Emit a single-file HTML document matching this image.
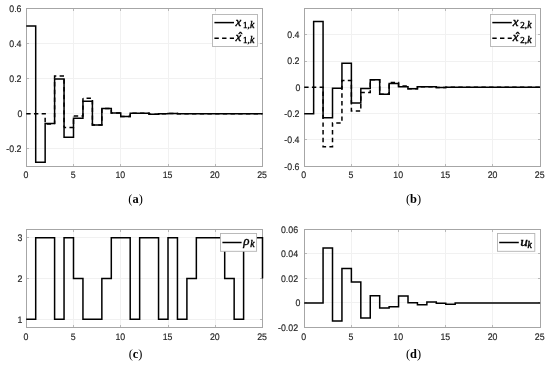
<!DOCTYPE html>
<html><head><meta charset="utf-8"><style>
html,body{margin:0;padding:0;background:#fff;}
svg{display:block;}
.t{font-family:"Liberation Sans",Arial,sans-serif;font-size:8.8px;fill:#262626;stroke:#262626;stroke-width:0.15px;text-rendering:geometricPrecision;}
.m{font-family:"Liberation Serif","Times New Roman",serif;font-style:italic;font-size:13px;fill:#000;stroke:#000;stroke-width:0.4px;}
.s{font-style:normal;font-size:9px;}
.mi{font-style:italic;}
.hat{font-family:"Liberation Serif",serif;font-size:11.5px;fill:#000;stroke:#000;stroke-width:0.35px;}
.cap{font-family:"Liberation Serif","Times New Roman",serif;font-size:12.4px;fill:#000;}
.cap tspan{font-weight:bold;}
</style></head><body>
<svg width="550" height="365" viewBox="0 0 550 365">
<rect width="550" height="365" fill="#fff"/>
<line x1="73.5" y1="8.5" x2="73.5" y2="166.5" stroke="#f1f1f1"/>
<line x1="120.5" y1="8.5" x2="120.5" y2="166.5" stroke="#f1f1f1"/>
<line x1="168.5" y1="8.5" x2="168.5" y2="166.5" stroke="#f1f1f1"/>
<line x1="215.5" y1="8.5" x2="215.5" y2="166.5" stroke="#f1f1f1"/>
<line x1="26.5" y1="43.5" x2="262.5" y2="43.5" stroke="#f1f1f1"/>
<line x1="26.5" y1="78.5" x2="262.5" y2="78.5" stroke="#f1f1f1"/>
<line x1="26.5" y1="113.5" x2="262.5" y2="113.5" stroke="#f1f1f1"/>
<line x1="26.5" y1="148.5" x2="262.5" y2="148.5" stroke="#f1f1f1"/>
<line x1="351.5" y1="8.5" x2="351.5" y2="166.5" stroke="#f1f1f1"/>
<line x1="398.5" y1="8.5" x2="398.5" y2="166.5" stroke="#f1f1f1"/>
<line x1="445.5" y1="8.5" x2="445.5" y2="166.5" stroke="#f1f1f1"/>
<line x1="492.5" y1="8.5" x2="492.5" y2="166.5" stroke="#f1f1f1"/>
<line x1="304.5" y1="34.5" x2="540.5" y2="34.5" stroke="#f1f1f1"/>
<line x1="304.5" y1="61.5" x2="540.5" y2="61.5" stroke="#f1f1f1"/>
<line x1="304.5" y1="87.5" x2="540.5" y2="87.5" stroke="#f1f1f1"/>
<line x1="304.5" y1="113.5" x2="540.5" y2="113.5" stroke="#f1f1f1"/>
<line x1="304.5" y1="139.5" x2="540.5" y2="139.5" stroke="#f1f1f1"/>
<line x1="73.5" y1="229.5" x2="73.5" y2="327.5" stroke="#f1f1f1"/>
<line x1="120.5" y1="229.5" x2="120.5" y2="327.5" stroke="#f1f1f1"/>
<line x1="168.5" y1="229.5" x2="168.5" y2="327.5" stroke="#f1f1f1"/>
<line x1="215.5" y1="229.5" x2="215.5" y2="327.5" stroke="#f1f1f1"/>
<line x1="26.5" y1="237.5" x2="262.5" y2="237.5" stroke="#f1f1f1"/>
<line x1="26.5" y1="278.5" x2="262.5" y2="278.5" stroke="#f1f1f1"/>
<line x1="26.5" y1="319.5" x2="262.5" y2="319.5" stroke="#f1f1f1"/>
<line x1="351.5" y1="229.5" x2="351.5" y2="327.5" stroke="#f1f1f1"/>
<line x1="398.5" y1="229.5" x2="398.5" y2="327.5" stroke="#f1f1f1"/>
<line x1="445.5" y1="229.5" x2="445.5" y2="327.5" stroke="#f1f1f1"/>
<line x1="492.5" y1="229.5" x2="492.5" y2="327.5" stroke="#f1f1f1"/>
<line x1="304.5" y1="253.5" x2="540.5" y2="253.5" stroke="#f1f1f1"/>
<line x1="304.5" y1="278.5" x2="540.5" y2="278.5" stroke="#f1f1f1"/>
<line x1="304.5" y1="302.5" x2="540.5" y2="302.5" stroke="#f1f1f1"/>
<line x1="73.5" y1="166.5" x2="73.5" y2="164.0" stroke="#b8b8b8"/>
<line x1="73.5" y1="8.5" x2="73.5" y2="11.0" stroke="#b8b8b8"/>
<line x1="120.5" y1="166.5" x2="120.5" y2="164.0" stroke="#b8b8b8"/>
<line x1="120.5" y1="8.5" x2="120.5" y2="11.0" stroke="#b8b8b8"/>
<line x1="168.5" y1="166.5" x2="168.5" y2="164.0" stroke="#b8b8b8"/>
<line x1="168.5" y1="8.5" x2="168.5" y2="11.0" stroke="#b8b8b8"/>
<line x1="215.5" y1="166.5" x2="215.5" y2="164.0" stroke="#b8b8b8"/>
<line x1="215.5" y1="8.5" x2="215.5" y2="11.0" stroke="#b8b8b8"/>
<line x1="26.5" y1="43.5" x2="29.0" y2="43.5" stroke="#b8b8b8"/>
<line x1="262.5" y1="43.5" x2="260.0" y2="43.5" stroke="#b8b8b8"/>
<line x1="26.5" y1="78.5" x2="29.0" y2="78.5" stroke="#b8b8b8"/>
<line x1="262.5" y1="78.5" x2="260.0" y2="78.5" stroke="#b8b8b8"/>
<line x1="26.5" y1="113.5" x2="29.0" y2="113.5" stroke="#b8b8b8"/>
<line x1="262.5" y1="113.5" x2="260.0" y2="113.5" stroke="#b8b8b8"/>
<line x1="26.5" y1="148.5" x2="29.0" y2="148.5" stroke="#b8b8b8"/>
<line x1="262.5" y1="148.5" x2="260.0" y2="148.5" stroke="#b8b8b8"/>
<rect x="26.5" y="8.5" width="236.0" height="158.0" fill="none" stroke="#a6a6a6"/>
<line x1="351.5" y1="166.5" x2="351.5" y2="164.0" stroke="#b8b8b8"/>
<line x1="351.5" y1="8.5" x2="351.5" y2="11.0" stroke="#b8b8b8"/>
<line x1="398.5" y1="166.5" x2="398.5" y2="164.0" stroke="#b8b8b8"/>
<line x1="398.5" y1="8.5" x2="398.5" y2="11.0" stroke="#b8b8b8"/>
<line x1="445.5" y1="166.5" x2="445.5" y2="164.0" stroke="#b8b8b8"/>
<line x1="445.5" y1="8.5" x2="445.5" y2="11.0" stroke="#b8b8b8"/>
<line x1="492.5" y1="166.5" x2="492.5" y2="164.0" stroke="#b8b8b8"/>
<line x1="492.5" y1="8.5" x2="492.5" y2="11.0" stroke="#b8b8b8"/>
<line x1="304.5" y1="34.5" x2="307.0" y2="34.5" stroke="#b8b8b8"/>
<line x1="540.5" y1="34.5" x2="538.0" y2="34.5" stroke="#b8b8b8"/>
<line x1="304.5" y1="61.5" x2="307.0" y2="61.5" stroke="#b8b8b8"/>
<line x1="540.5" y1="61.5" x2="538.0" y2="61.5" stroke="#b8b8b8"/>
<line x1="304.5" y1="87.5" x2="307.0" y2="87.5" stroke="#b8b8b8"/>
<line x1="540.5" y1="87.5" x2="538.0" y2="87.5" stroke="#b8b8b8"/>
<line x1="304.5" y1="113.5" x2="307.0" y2="113.5" stroke="#b8b8b8"/>
<line x1="540.5" y1="113.5" x2="538.0" y2="113.5" stroke="#b8b8b8"/>
<line x1="304.5" y1="139.5" x2="307.0" y2="139.5" stroke="#b8b8b8"/>
<line x1="540.5" y1="139.5" x2="538.0" y2="139.5" stroke="#b8b8b8"/>
<rect x="304.5" y="8.5" width="236.0" height="158.0" fill="none" stroke="#a6a6a6"/>
<line x1="73.5" y1="327.5" x2="73.5" y2="325.0" stroke="#b8b8b8"/>
<line x1="73.5" y1="229.5" x2="73.5" y2="232.0" stroke="#b8b8b8"/>
<line x1="120.5" y1="327.5" x2="120.5" y2="325.0" stroke="#b8b8b8"/>
<line x1="120.5" y1="229.5" x2="120.5" y2="232.0" stroke="#b8b8b8"/>
<line x1="168.5" y1="327.5" x2="168.5" y2="325.0" stroke="#b8b8b8"/>
<line x1="168.5" y1="229.5" x2="168.5" y2="232.0" stroke="#b8b8b8"/>
<line x1="215.5" y1="327.5" x2="215.5" y2="325.0" stroke="#b8b8b8"/>
<line x1="215.5" y1="229.5" x2="215.5" y2="232.0" stroke="#b8b8b8"/>
<line x1="26.5" y1="237.5" x2="29.0" y2="237.5" stroke="#b8b8b8"/>
<line x1="262.5" y1="237.5" x2="260.0" y2="237.5" stroke="#b8b8b8"/>
<line x1="26.5" y1="278.5" x2="29.0" y2="278.5" stroke="#b8b8b8"/>
<line x1="262.5" y1="278.5" x2="260.0" y2="278.5" stroke="#b8b8b8"/>
<line x1="26.5" y1="319.5" x2="29.0" y2="319.5" stroke="#b8b8b8"/>
<line x1="262.5" y1="319.5" x2="260.0" y2="319.5" stroke="#b8b8b8"/>
<rect x="26.5" y="229.5" width="236.0" height="98.0" fill="none" stroke="#a6a6a6"/>
<line x1="351.5" y1="327.5" x2="351.5" y2="325.0" stroke="#b8b8b8"/>
<line x1="351.5" y1="229.5" x2="351.5" y2="232.0" stroke="#b8b8b8"/>
<line x1="398.5" y1="327.5" x2="398.5" y2="325.0" stroke="#b8b8b8"/>
<line x1="398.5" y1="229.5" x2="398.5" y2="232.0" stroke="#b8b8b8"/>
<line x1="445.5" y1="327.5" x2="445.5" y2="325.0" stroke="#b8b8b8"/>
<line x1="445.5" y1="229.5" x2="445.5" y2="232.0" stroke="#b8b8b8"/>
<line x1="492.5" y1="327.5" x2="492.5" y2="325.0" stroke="#b8b8b8"/>
<line x1="492.5" y1="229.5" x2="492.5" y2="232.0" stroke="#b8b8b8"/>
<line x1="304.5" y1="253.5" x2="307.0" y2="253.5" stroke="#b8b8b8"/>
<line x1="540.5" y1="253.5" x2="538.0" y2="253.5" stroke="#b8b8b8"/>
<line x1="304.5" y1="278.5" x2="307.0" y2="278.5" stroke="#b8b8b8"/>
<line x1="540.5" y1="278.5" x2="538.0" y2="278.5" stroke="#b8b8b8"/>
<line x1="304.5" y1="302.5" x2="307.0" y2="302.5" stroke="#b8b8b8"/>
<line x1="540.5" y1="302.5" x2="538.0" y2="302.5" stroke="#b8b8b8"/>
<rect x="304.5" y="229.5" width="236.0" height="98.0" fill="none" stroke="#a6a6a6"/>
<polyline points="26.25,113.67 35.70,113.67 35.70,113.67 45.15,113.67 45.15,124.02 54.60,124.02" fill="none" stroke="#000" stroke-width="1.5" stroke-dasharray="4.4 3.3" stroke-dashoffset="0.00"/>
<polyline points="54.60,124.02 54.60,76.12 64.05,76.12 64.05,127.53" fill="none" stroke="#000" stroke-width="1.5" stroke-dasharray="4.4 3.3" stroke-dashoffset="1.00"/>
<polyline points="64.05,127.53 73.50,127.53 73.50,116.12" fill="none" stroke="#000" stroke-width="1.5" stroke-dasharray="4.4 3.3" stroke-dashoffset="2.30"/>
<polyline points="73.50,116.12 82.95,116.12 82.95,98.14" fill="none" stroke="#000" stroke-width="1.5" stroke-dasharray="4.4 3.3" stroke-dashoffset="7.40"/>
<polyline points="82.95,98.14 92.40,98.14 92.40,124.90 101.85,124.90 101.85,108.58 111.30,108.58 111.30,112.96 120.75,112.96 120.75,116.47 130.20,116.47 130.20,113.14 139.65,113.14 139.65,113.14 149.10,113.14 149.10,114.19 158.55,114.19 158.55,113.84 168.00,113.84 168.00,113.49 177.45,113.49 177.45,113.67 186.90,113.67 186.90,113.67 196.35,113.67 196.35,113.67 205.80,113.67 205.80,113.67 215.25,113.67 215.25,113.67 224.70,113.67 224.70,113.67 234.15,113.67 234.15,113.67 243.60,113.67 243.60,113.67 253.05,113.67 253.05,113.67 262.50,113.67 262.50,113.67" fill="none" stroke="#000" stroke-width="1.5" stroke-dasharray="4.4 3.3" stroke-dashoffset="4.10"/>
<polyline points="26.25,25.94 35.70,25.94 35.70,162.26 45.15,162.26 45.15,123.49 54.60,123.49 54.60,78.93 64.05,78.93 64.05,137.18 73.50,137.18 73.50,118.23 82.95,118.23 82.95,101.30 92.40,101.30 92.40,124.90 101.85,124.90 101.85,108.58 111.30,108.58 111.30,112.96 120.75,112.96 120.75,116.47 130.20,116.47 130.20,113.14 139.65,113.14 139.65,113.14 149.10,113.14 149.10,114.19 158.55,114.19 158.55,113.84 168.00,113.84 168.00,113.49 177.45,113.49 177.45,113.67 186.90,113.67 186.90,113.67 196.35,113.67 196.35,113.67 205.80,113.67 205.80,113.67 215.25,113.67 215.25,113.67 224.70,113.67 224.70,113.67 234.15,113.67 234.15,113.67 243.60,113.67 243.60,113.67 253.05,113.67 253.05,113.67 262.50,113.67 262.50,113.67" fill="none" stroke="#000" stroke-width="1.5"/>
<polyline points="304.20,87.35 313.64,87.35 313.64,87.35 323.07,87.35 323.07,146.83 332.51,146.83 332.51,122.88 341.94,122.88 341.94,80.51 351.38,80.51 351.38,111.04 360.82,111.04 360.82,92.61 370.25,92.61 370.25,79.85 379.69,79.85 379.69,94.32 389.12,94.32 389.12,82.48 398.56,82.48 398.56,86.10 408.00,86.10 408.00,88.80 417.43,88.80 417.43,86.69 426.87,86.69 426.87,86.82 436.30,86.82 436.30,87.48 445.74,87.48 445.74,87.35 455.18,87.35 455.18,87.35 464.61,87.35 464.61,87.35 474.05,87.35 474.05,87.35 483.48,87.35 483.48,87.35 492.92,87.35 492.92,87.35 502.36,87.35 502.36,87.35 511.79,87.35 511.79,87.35 521.23,87.35 521.23,87.35 530.66,87.35 530.66,87.35 540.10,87.35 540.10,87.35" fill="none" stroke="#000" stroke-width="1.5" stroke-dasharray="4.4 3.3"/>
<polyline points="304.20,113.67 313.64,113.67 313.64,21.56 323.07,21.56 323.07,117.75 332.51,117.75 332.51,88.27 341.94,88.27 341.94,63.27 351.38,63.27 351.38,102.88 360.82,102.88 360.82,88.40 370.25,88.40 370.25,79.85 379.69,79.85 379.69,94.32 389.12,94.32 389.12,83.40 398.56,83.40 398.56,86.69 408.00,86.69 408.00,88.80 417.43,88.80 417.43,86.69 426.87,86.69 426.87,86.82 436.30,86.82 436.30,87.48 445.74,87.48 445.74,87.35 455.18,87.35 455.18,87.35 464.61,87.35 464.61,87.35 474.05,87.35 474.05,87.35 483.48,87.35 483.48,87.35 492.92,87.35 492.92,87.35 502.36,87.35 502.36,87.35 511.79,87.35 511.79,87.35 521.23,87.35 521.23,87.35 530.66,87.35 530.66,87.35 540.10,87.35 540.10,87.35" fill="none" stroke="#000" stroke-width="1.5"/>
<polyline points="26.25,319.24 35.70,319.24 35.70,237.66 45.15,237.66 45.15,237.66 54.60,237.66 54.60,319.24 64.05,319.24 64.05,237.66 73.50,237.66 73.50,278.45 82.95,278.45 82.95,319.24 92.40,319.24 92.40,319.24 101.85,319.24 101.85,278.45 111.30,278.45 111.30,237.66 120.75,237.66 120.75,237.66 130.20,237.66 130.20,319.24 139.65,319.24 139.65,237.66 149.10,237.66 149.10,237.66 158.55,237.66 158.55,319.24 168.00,319.24 168.00,237.66 177.45,237.66 177.45,319.24 186.90,319.24 186.90,278.45 196.35,278.45 196.35,237.66 205.80,237.66 205.80,237.66 215.25,237.66 215.25,237.66 224.70,237.66 224.70,278.45 234.15,278.45 234.15,319.24 243.60,319.24 243.60,237.66 253.05,237.66 253.05,237.66 262.50,237.66 262.50,278.45" fill="none" stroke="#000" stroke-width="1.5"/>
<polyline points="304.20,302.92 313.64,302.92 313.64,302.92 323.07,302.92 323.07,247.98 332.51,247.98 332.51,321.04 341.94,321.04 341.94,268.54 351.38,268.54 351.38,281.88 360.82,281.88 360.82,318.10 370.25,318.10 370.25,295.70 379.69,295.70 379.69,308.06 389.12,308.06 389.12,306.84 398.56,306.84 398.56,295.95 408.00,295.95 408.00,302.80 417.43,302.80 417.43,304.76 426.87,304.76 426.87,302.07 436.30,302.07 436.30,303.17 445.74,303.17 445.74,304.15 455.18,304.15 455.18,302.92 464.61,302.92 464.61,302.92 474.05,302.92 474.05,302.92 483.48,302.92 483.48,302.92 492.92,302.92 492.92,302.92 502.36,302.92 502.36,302.92 511.79,302.92 511.79,302.92 521.23,302.92 521.23,302.92 530.66,302.92 530.66,302.92 540.10,302.92 540.10,302.92" fill="none" stroke="#000" stroke-width="1.5"/>
<text transform="translate(25.85,178.30) scale(1,1.08)" text-anchor="middle" class="t">0</text>
<text transform="translate(73.10,178.30) scale(1,1.08)" text-anchor="middle" class="t">5</text>
<text transform="translate(120.35,178.30) scale(1,1.08)" text-anchor="middle" class="t">10</text>
<text transform="translate(167.60,178.30) scale(1,1.08)" text-anchor="middle" class="t">15</text>
<text transform="translate(214.85,178.30) scale(1,1.08)" text-anchor="middle" class="t">20</text>
<text transform="translate(262.10,178.30) scale(1,1.08)" text-anchor="middle" class="t">25</text>
<text transform="translate(21.50,11.80) scale(1,1.08)" text-anchor="end" class="t">0.6</text>
<text transform="translate(21.50,46.89) scale(1,1.08)" text-anchor="end" class="t">0.4</text>
<text transform="translate(21.50,81.98) scale(1,1.08)" text-anchor="end" class="t">0.2</text>
<text transform="translate(22.40,117.07) scale(1,1.08)" text-anchor="end" class="t">0</text>
<text transform="translate(21.50,152.16) scale(1,1.08)" text-anchor="end" class="t">-0.2</text>
<text transform="translate(303.80,178.30) scale(1,1.08)" text-anchor="middle" class="t">0</text>
<text transform="translate(350.98,178.30) scale(1,1.08)" text-anchor="middle" class="t">5</text>
<text transform="translate(398.16,178.30) scale(1,1.08)" text-anchor="middle" class="t">10</text>
<text transform="translate(445.34,178.30) scale(1,1.08)" text-anchor="middle" class="t">15</text>
<text transform="translate(492.52,178.30) scale(1,1.08)" text-anchor="middle" class="t">20</text>
<text transform="translate(539.70,178.30) scale(1,1.08)" text-anchor="middle" class="t">25</text>
<text transform="translate(299.50,38.12) scale(1,1.08)" text-anchor="end" class="t">0.4</text>
<text transform="translate(299.50,64.43) scale(1,1.08)" text-anchor="end" class="t">0.2</text>
<text transform="translate(300.40,90.75) scale(1,1.08)" text-anchor="end" class="t">0</text>
<text transform="translate(299.50,117.07) scale(1,1.08)" text-anchor="end" class="t">-0.2</text>
<text transform="translate(299.50,143.38) scale(1,1.08)" text-anchor="end" class="t">-0.4</text>
<text transform="translate(299.50,169.70) scale(1,1.08)" text-anchor="end" class="t">-0.6</text>
<text transform="translate(25.85,339.60) scale(1,1.08)" text-anchor="middle" class="t">0</text>
<text transform="translate(73.10,339.60) scale(1,1.08)" text-anchor="middle" class="t">5</text>
<text transform="translate(120.35,339.60) scale(1,1.08)" text-anchor="middle" class="t">10</text>
<text transform="translate(167.60,339.60) scale(1,1.08)" text-anchor="middle" class="t">15</text>
<text transform="translate(214.85,339.60) scale(1,1.08)" text-anchor="middle" class="t">20</text>
<text transform="translate(262.10,339.60) scale(1,1.08)" text-anchor="middle" class="t">25</text>
<text transform="translate(22.40,241.06) scale(1,1.08)" text-anchor="end" class="t">3</text>
<text transform="translate(22.40,281.85) scale(1,1.08)" text-anchor="end" class="t">2</text>
<text transform="translate(22.40,322.64) scale(1,1.08)" text-anchor="end" class="t">1</text>
<text transform="translate(303.80,339.60) scale(1,1.08)" text-anchor="middle" class="t">0</text>
<text transform="translate(350.98,339.60) scale(1,1.08)" text-anchor="middle" class="t">5</text>
<text transform="translate(398.16,339.60) scale(1,1.08)" text-anchor="middle" class="t">10</text>
<text transform="translate(445.34,339.60) scale(1,1.08)" text-anchor="middle" class="t">15</text>
<text transform="translate(492.52,339.60) scale(1,1.08)" text-anchor="middle" class="t">20</text>
<text transform="translate(539.70,339.60) scale(1,1.08)" text-anchor="middle" class="t">25</text>
<text transform="translate(298.10,232.90) scale(1,1.08)" text-anchor="end" class="t">0.06</text>
<text transform="translate(298.10,257.38) scale(1,1.08)" text-anchor="end" class="t">0.04</text>
<text transform="translate(298.10,281.85) scale(1,1.08)" text-anchor="end" class="t">0.02</text>
<text transform="translate(300.40,306.32) scale(1,1.08)" text-anchor="end" class="t">0</text>
<text transform="translate(298.10,330.80) scale(1,1.08)" text-anchor="end" class="t">-0.02</text>
<rect x="212.5" y="14.5" width="45.0" height="32.0" fill="#fff" stroke="#b3b3b3" stroke-width="0.9"/>
<line x1="214.4" y1="22.6" x2="234.0" y2="22.6" stroke="#000" stroke-width="1.5"/>
<text x="235.6" y="25.6" class="m">x<tspan class="s" dx="1.6" dy="2.0">1,<tspan class="mi" dx="0.3" style="font-size:9.6px">k</tspan></tspan></text>
<line x1="214.4" y1="38.2" x2="234.0" y2="38.2" stroke="#000" stroke-width="1.5" stroke-dasharray="4.4 3.3"/>
<text x="235.6" y="41.1" class="m">x<tspan class="s" dx="1.6" dy="2.0">1,<tspan class="mi" dx="0.3" style="font-size:9.6px">k</tspan></tspan></text><text x="240.40" y="40.60" class="hat" text-anchor="middle">ˆ</text>
<rect x="490.5" y="14.5" width="45.0" height="32.0" fill="#fff" stroke="#b3b3b3" stroke-width="0.9"/>
<line x1="492.3" y1="22.6" x2="511.8" y2="22.6" stroke="#000" stroke-width="1.5"/>
<text x="512.8" y="25.6" class="m">x<tspan class="s" dx="1.6" dy="2.0">2,<tspan class="mi" dx="0.3" style="font-size:9.6px">k</tspan></tspan></text>
<line x1="492.3" y1="38.2" x2="511.8" y2="38.2" stroke="#000" stroke-width="1.5" stroke-dasharray="4.4 3.3"/>
<text x="512.8" y="41.1" class="m">x<tspan class="s" dx="1.6" dy="2.0">2,<tspan class="mi" dx="0.3" style="font-size:9.6px">k</tspan></tspan></text><text x="517.60" y="40.60" class="hat" text-anchor="middle">ˆ</text>
<rect x="220.5" y="233.5" width="36.1" height="17.8" fill="#fff" stroke="#b3b3b3" stroke-width="0.9"/>
<line x1="222.4" y1="242.5" x2="241.6" y2="242.5" stroke="#000" stroke-width="1.5"/>
<text x="243.3" y="245.4" class="m">ρ<tspan class="s mi" dx="0.7" dy="2.0" style="font-size:9.6px">k</tspan></text>
<rect x="497.5" y="233.5" width="37.3" height="17.8" fill="#fff" stroke="#b3b3b3" stroke-width="0.9"/>
<line x1="499.2" y1="242.5" x2="518.8" y2="242.5" stroke="#000" stroke-width="1.5"/>
<text transform="translate(520.2,245.8) scale(1.18,1)" class="m">u</text><text x="527.6" y="247.6" class="m" style="font-size:9.6px">k</text>
<text x="135.6" y="202.6" text-anchor="middle" class="cap">(<tspan>a</tspan>)</text>
<text x="413.5" y="202.6" text-anchor="middle" class="cap">(<tspan>b</tspan>)</text>
<text x="135.6" y="358.4" text-anchor="middle" class="cap">(<tspan>c</tspan>)</text>
<text x="413.5" y="358.4" text-anchor="middle" class="cap">(<tspan>d</tspan>)</text>
</svg>
</body></html>
